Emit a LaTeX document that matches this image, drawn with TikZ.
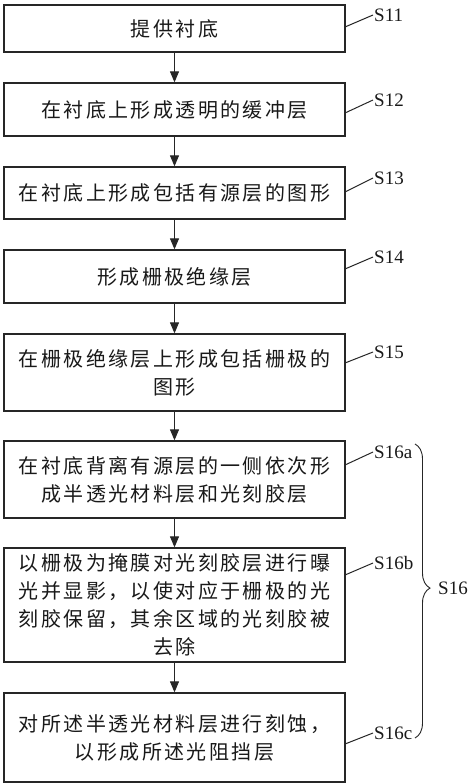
\documentclass[tikz,border=0pt]{standalone}
\usepackage{fontspec}
\setmainfont{Liberation Serif}
\newfontfamily\cjk{Noto Sans CJK SC}[LetterSpace=12]
\usetikzlibrary{arrows.meta,decorations.pathreplacing}
\begin{document}
\begin{tikzpicture}[x=1pt,y=-1pt,
  box/.style={draw=black!85, line width=1.3pt, rectangle, minimum width=341pt,
    inner sep=0pt, align=center, font=\cjk\fontsize{20}{28}\selectfont, text=black!90},
  arr/.style={draw=black!85, line width=1pt, -{Triangle[width=9pt,length=11pt]}},
  lab/.style={font=\fontsize{19}{22}\selectfont, inner sep=1pt, anchor=west, text=black!90},
  lead/.style={draw=black!85, line width=1pt},
  bracestyle/.style={draw=black!85, line width=0.9pt,
    decorate, decoration={brace, amplitude=15pt, aspect=0.49}}]
\useasboundingbox (0,0) rectangle (474,783);
\fill[white] (0,0) rectangle (474,783);

\node[box, minimum height=47pt] (b1) at (174.5,28.5) {提供衬底};
\node[box, minimum height=53pt] (b2) at (174.5,109.5) {在衬底上形成透明的缓冲层};
\node[box, minimum height=52pt] (b3) at (174.5,193) {在衬底上形成包括有源层的图形};
\node[box, minimum height=53pt] (b4) at (174.5,276.5) {形成栅极绝缘层};
\node[box, minimum height=77pt] (b5) at (174.5,372.5) {在栅极绝缘层上形成包括栅极的\\图形};
\node[box, minimum height=77pt] (b6) at (174.5,479.5) {在衬底背离有源层的一侧依次形\\成半透光材料层和光刻胶层};
\node[box, minimum height=114pt] (b7) at (174.5,605) {以栅极为掩膜对光刻胶层进行曝\\光并显影，以使对应于栅极的光\\刻胶保留，其余区域的光刻胶被\\去除};
\node[box, minimum height=89pt] (b8) at (174.5,737.5) {对所述半透光材料层进行刻蚀，\\以形成所述光阻挡层};

\draw[arr] (b1) -- (b2);
\draw[arr] (b2) -- (b3);
\draw[arr] (b3) -- (b4);
\draw[arr] (b4) -- (b5);
\draw[arr] (b5) -- (b6);
\draw[arr] (b6) -- (b7);
\draw[arr] (b7) -- (b8);

\node[lab] (l1) at (373,15) {S11};
\node[lab] (l2) at (373,100) {S12};
\node[lab] (l3) at (373,178) {S13};
\node[lab] (l4) at (373,257) {S14};
\node[lab] (l5) at (373,352) {S15};
\node[lab] (l6) at (373,452) {S16a};
\node[lab] (l7) at (373,563) {S16b};
\node[lab] (l8) at (373,733) {S16c};

\coordinate (p1) at (345,27);
\coordinate (p2) at (345,113);
\coordinate (p3) at (345,192);
\coordinate (p4) at (345,269);
\coordinate (p5) at (345,363);
\coordinate (p6) at (345,465);
\coordinate (p7) at (345,575);
\coordinate (p8) at (345,744);
\draw[lead] (p1) -- (l1.west);
\draw[lead] (p2) -- (l2.west);
\draw[lead] (p3) -- (l3.west);
\draw[lead] (p4) -- (l4.west);
\draw[lead] (p5) -- (l5.west);
\draw[lead] (p6) -- (l6.west);
\draw[lead] (p7) -- (l7.west);
\draw[lead] (p8) -- (l8.west);

\coordinate (bt) at (415,444);
\coordinate (bb) at (415,738);
\draw[bracestyle] (bt) -- (bb);
\node[lab] (l16) at (437,588) {S16};
\end{tikzpicture}
\end{document}
